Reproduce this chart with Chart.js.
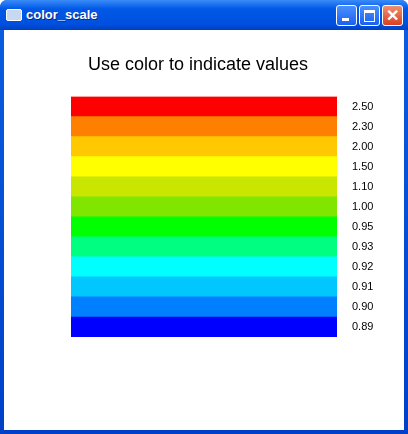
<!DOCTYPE html>
<html><head><meta charset="utf-8">
<script src="https://cdn.jsdelivr.net/npm/chart.js@4"></script>
<style>
body{margin:0;width:408px;height:434px;overflow:hidden;font-family:"Liberation Sans",Arial,sans-serif;}
#win{position:absolute;left:0;top:0;width:408px;height:434px;background:linear-gradient(#0a5fe0,#0040c8);border-radius:7px 7px 0 0;}
#bar{position:absolute;left:0;top:0;width:408px;height:30px;background:linear-gradient(#3a8cf8,#0058e6 30%,#0050e0 80%,#0040c0);border-radius:7px 7px 0 0;}
#ttl{position:absolute;left:26px;top:7px;color:#fff;font-weight:bold;font-size:13px;text-shadow:1px 1px #0a2a80;}
#ico{position:absolute;left:6px;top:9px;width:14px;height:10px;background:#c8d8f0;border:1px solid #fff;border-radius:2px;}
.b{position:absolute;top:5px;width:19px;height:19px;border:1px solid #fff;border-radius:3px;background:linear-gradient(#4a90ff,#1a60f0);}
#client{position:absolute;left:4px;top:30px;width:400px;height:400px;background:#fff;}
canvas{position:absolute;left:0;top:0;}
</style></head><body>
<div id="win"><div id="bar"><div id="ico"></div><div id="ttl">color_scale</div>
<div class="b" style="left:336px"><div style="position:absolute;left:5px;top:12px;width:7px;height:3px;background:#fff"></div></div>
<div class="b" style="left:359px"><div style="position:absolute;left:4px;top:4px;width:9px;height:8px;border:1px solid #fff;border-top-width:3px"></div></div>
<div class="b" style="left:382px;background:linear-gradient(#f09070,#d84020);color:#fff;font-size:16px;text-align:center;line-height:19px;font-weight:bold">✕</div>
</div><div id="client"><canvas id="c" width="388" height="400" style="width:388px;height:400px"></canvas></div></div>
<script>
const labels = ['2.50','2.30','2.00','1.50','1.10','1.00','0.95','0.93','0.92','0.91','0.90','0.89'];
const colors = ['#ff0000','#ff8000','#ffc800','#ffff00','#c8e600','#80e600','#00ff00','#00ff80','#00ffff','#00c8ff','#0080ff','#0000ff'];
const fill = [1,1,1,1,1,1,1,1,1,1,1,1];

new Chart(document.getElementById('c'), {
  type: 'bar',
  data: {labels: labels, datasets: [{data: fill, backgroundColor: colors, barPercentage: 1, categoryPercentage: 1, borderWidth: 0}]},
  options: {
    indexAxis: 'y', responsive: false, animation: false,
    layout: {padding: {left: 0, top: 0, bottom: 93, right: 0}},
    plugins: {
      legend: {display: false}, tooltip: {enabled: false},
      title: {display: true, text: 'Use color to indicate values', color: '#000',
        font: {size: 18, family: '"Liberation Sans", Arial, sans-serif', weight: 'normal'},
        padding: {top: 24, bottom: 21}}
    },
    scales: {
      x: {display: false, min: 0, max: 1},
      y: {position: 'right', grid: {display: false, drawTicks: false}, border: {display: false},
        ticks: {color: '#000', padding: 15, font: {size: 11, family: '"Liberation Sans", Arial, sans-serif'}},
        afterFit: s => { s.width = 55; }},
      yl: {type: 'category', position: 'left', grid: {display: false, drawTicks: false}, border: {display: false},
        ticks: {display: false}, afterFit: s => { s.width = 67; }}
    }
  }
});
</script></body></html>
